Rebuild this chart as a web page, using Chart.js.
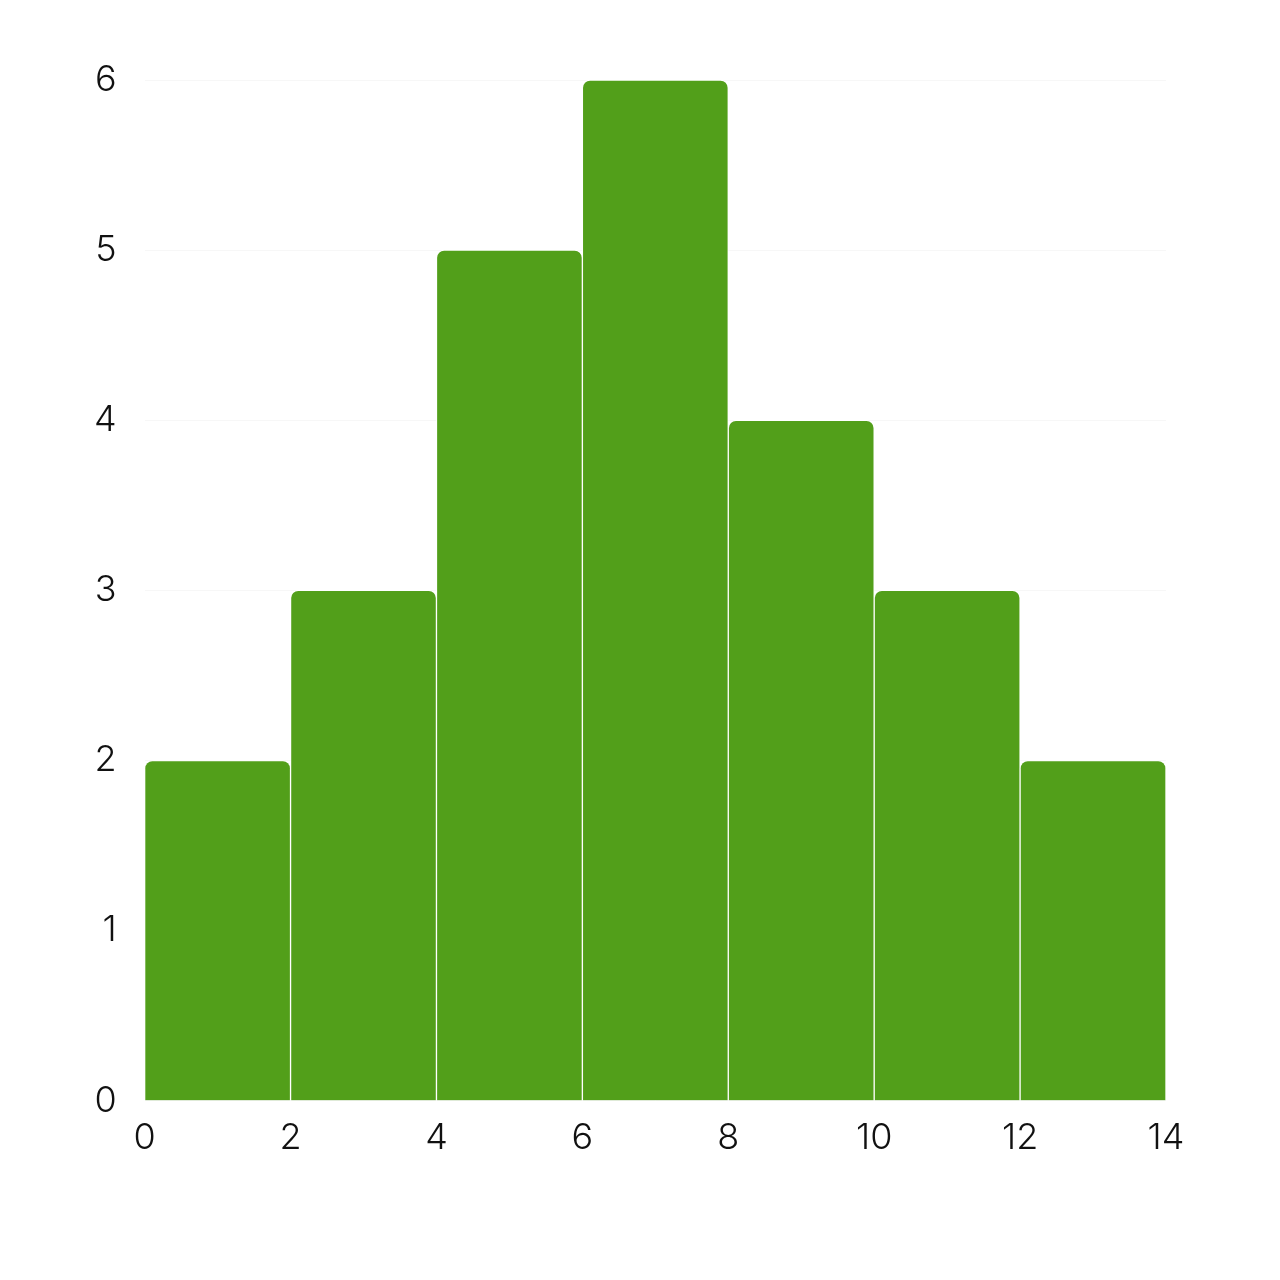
<!DOCTYPE html>
<html lang="en">
<head>
    <meta charset="UTF-8">
    <script src="https://cdn.jsdelivr.net/npm/chart.js"></script>
    <title>Histogram</title>
    <style>
        html, body { margin: 0; padding: 0; background: #fff; }
        .chart-wrapper { width: 1280px; height: 1280px; }
    </style>
</head>
<body>

<div class="chart-wrapper">
    <canvas id="histChart"></canvas>
</div>

<script>
// bins are 2 wide, centers below
const binCenters = [1, 3, 5, 7, 9, 11, 13];
const binCounts = [2, 3, 5, 6, 4, 3, 2];
const xTicks = [0, 2, 4, 6, 8, 10, 12, 14];
const yTicks = [0, 1, 2, 3, 4, 5, 6];

const points = binCenters.map((c, i) => ({ x: c, y: binCounts[i] }));

const ctx = document.getElementById('histChart').getContext('2d');
const histChart = new Chart(ctx, {
    type: 'bar',
    data: {
        datasets: [{
            data: points,
            backgroundColor: '#529f1a',
            borderColor: '#ffffff',
            borderWidth: 1,
            borderSkipped: 'bottom',
            borderRadius: { topLeft: 8, topRight: 8, bottomLeft: 0, bottomRight: 0 },
            barPercentage: 1,
            categoryPercentage: 1
        }]
    },
    options: {
        responsive: true,
        maintainAspectRatio: false,
        animation: false,
        layout: {
            padding: { left: 66, right: 114, top: 80, bottom: 112 }
        },
        plugins: {
            legend: { display: false },
            tooltip: { enabled: false }
        },
        scales: {
            x: {
                type: 'linear',
                offset: false,
                min: xTicks[0],
                max: xTicks[xTicks.length - 1],
                afterBuildTicks: axis => { axis.ticks = xTicks.map(v => ({ value: v })); },
                grid: { display: false },
                border: { display: false },
                ticks: {
                    color: '#111',
                    font: { family: 'Inter', size: 36, weight: 300 },
                    padding: 8,
                    maxRotation: 0
                }
            },
            y: {
                min: yTicks[0],
                max: yTicks[yTicks.length - 1],
                afterBuildTicks: axis => { axis.ticks = yTicks.map(v => ({ value: v })); },
                grid: { color: '#f7f7f7', drawTicks: false },
                border: { display: false },
                ticks: {
                    color: '#111',
                    font: { family: 'Inter', size: 36, weight: 300 },
                    padding: 28
                }
            }
        }
    }
});
</script>

</body>
</html>
